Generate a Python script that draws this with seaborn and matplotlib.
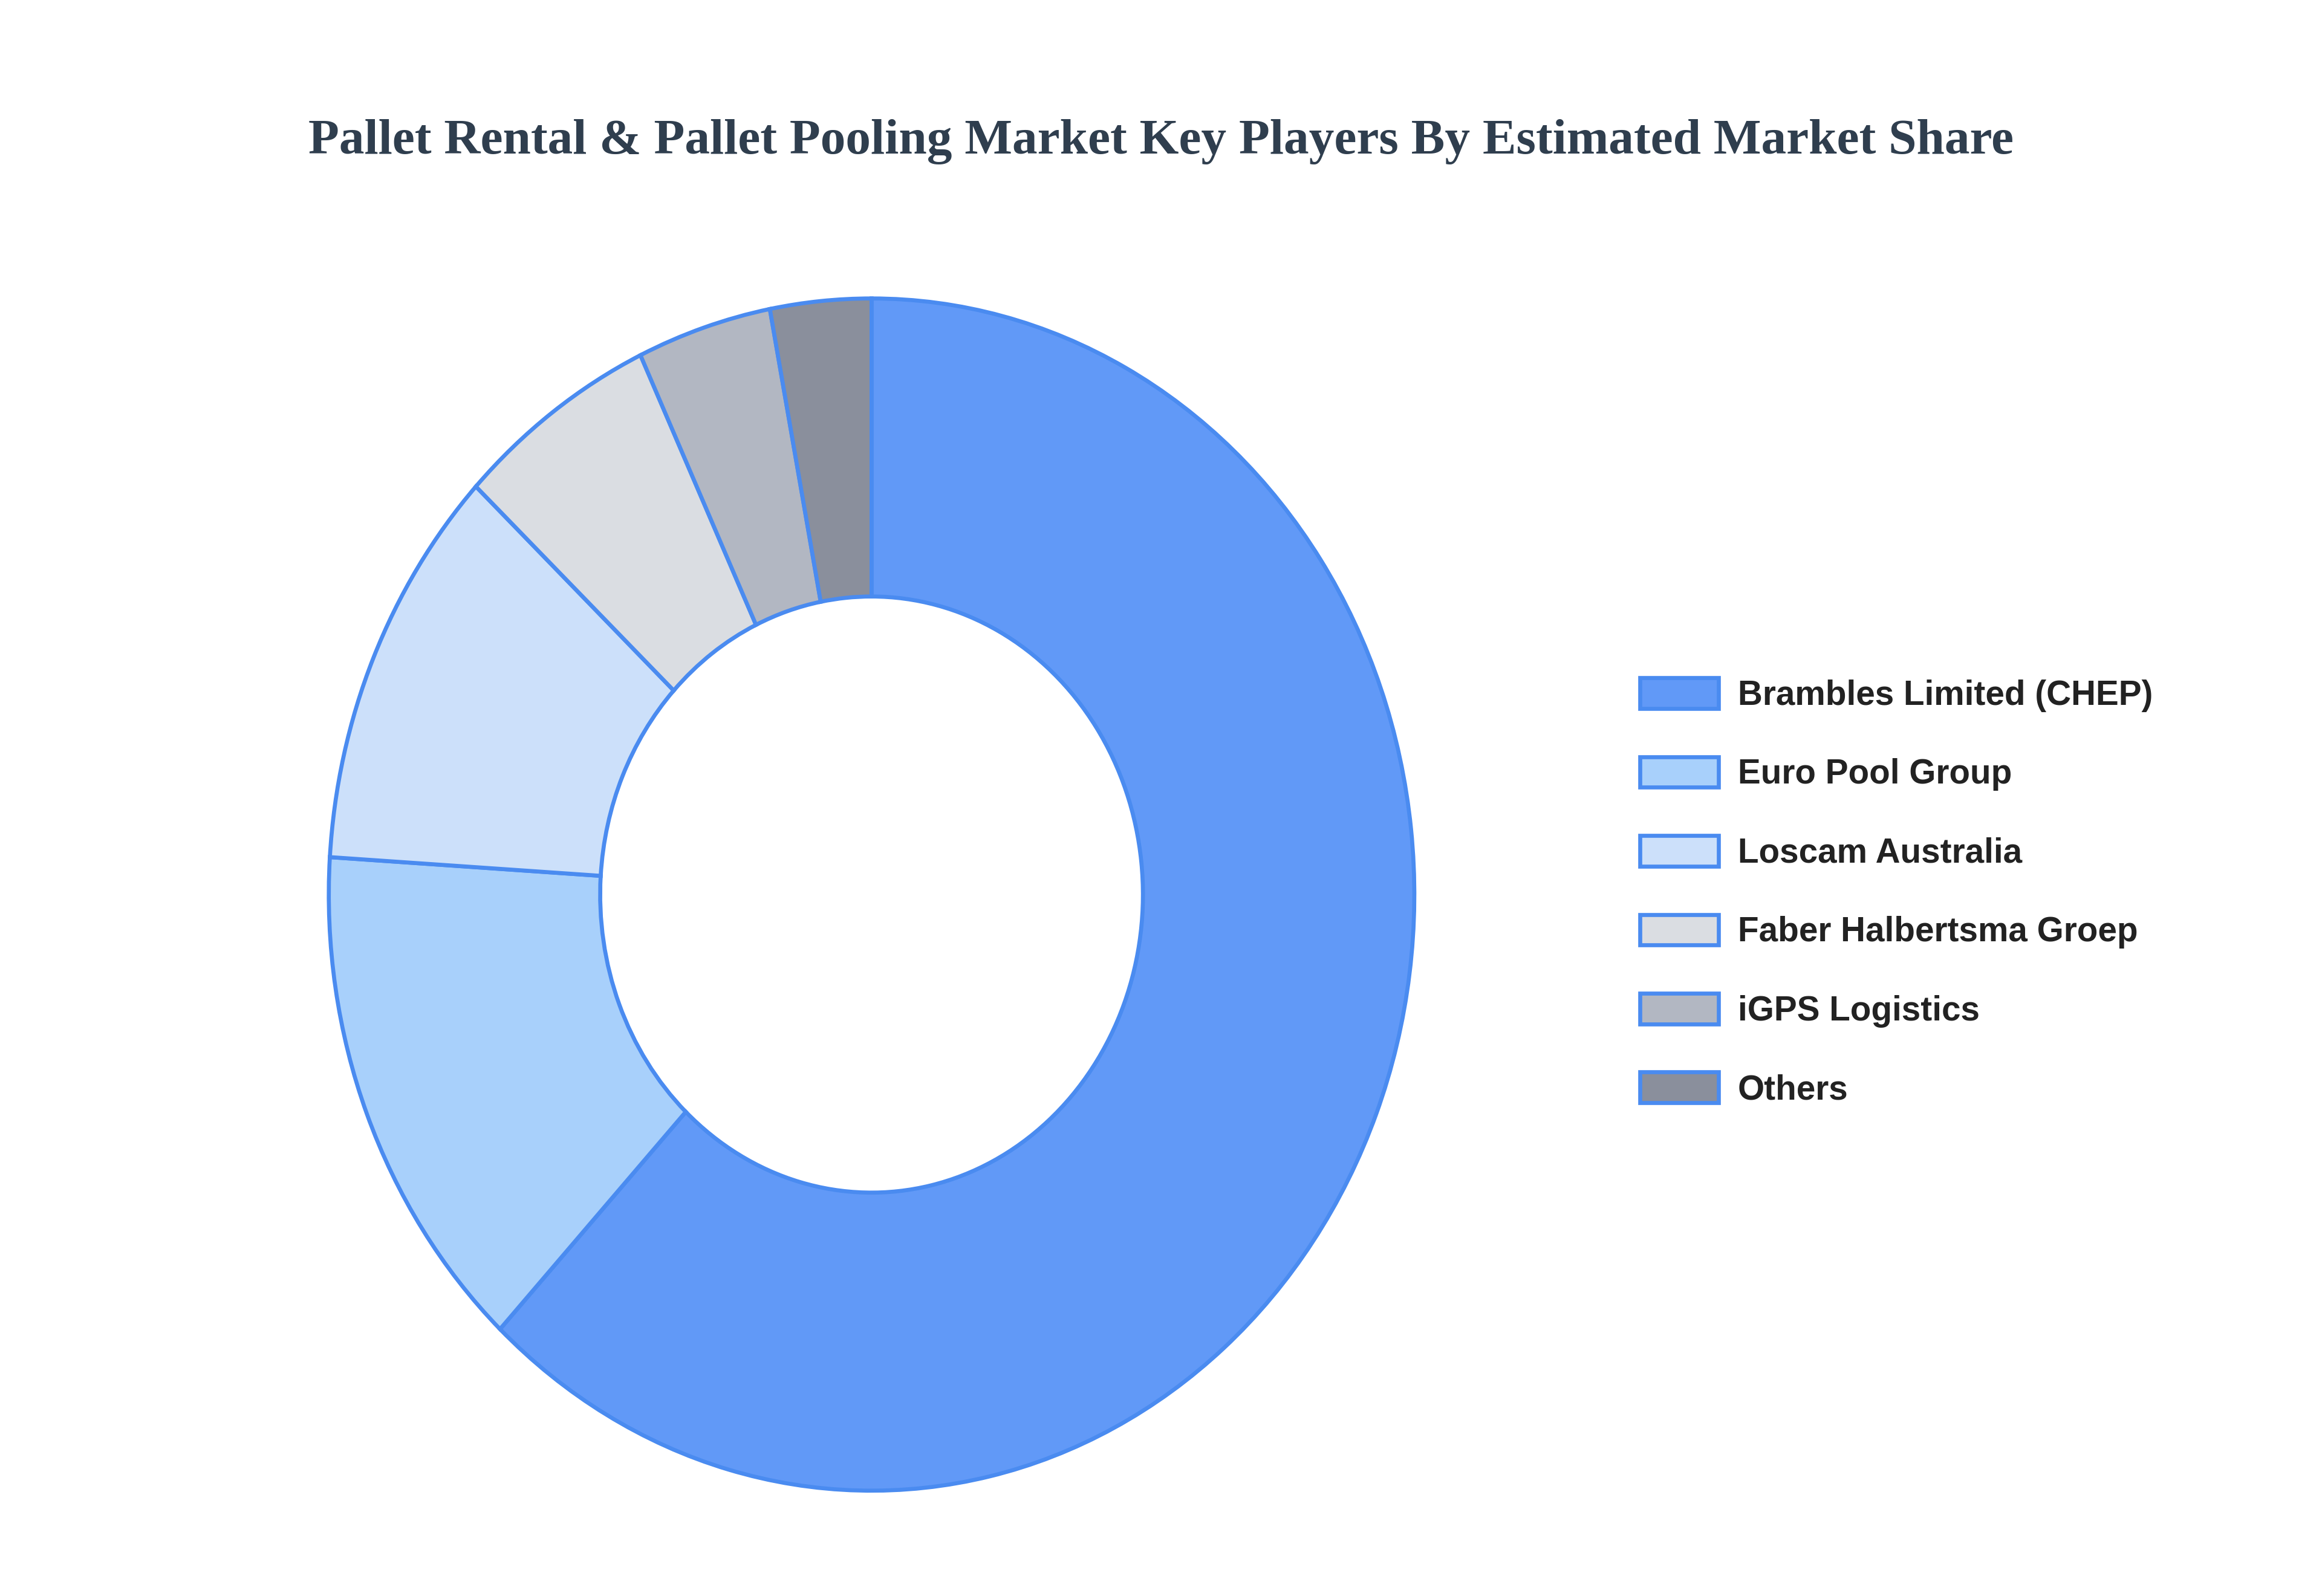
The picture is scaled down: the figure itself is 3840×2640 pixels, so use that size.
import matplotlib
matplotlib.use("Agg")
import matplotlib.pyplot as plt
import seaborn as sns
from matplotlib.patches import Patch

sns.set_theme(style="white")

players = ["Brambles Limited (CHEP)", "Euro Pool Group", "Loscam Australia",
           "Faber Halbertsma Groep", "iGPS Logistics", "Others"]
shares = [62, 14, 11, 6, 4, 3]
colors = ["#6199F7", "#A8D0FB", "#CCE0FA", "#DADDE2", "#B2B7C2", "#8A8F9C"]
edge = "#4A8BF0"

fig = plt.figure(figsize=(16, 11), dpi=240)
ax = fig.add_axes([0.1416, 0.066, 0.4675, 0.747])
ax.pie(shares, colors=colors, startangle=90, counterclock=False, radius=1,
       wedgeprops=dict(width=0.5, edgecolor=edge, linewidth=2))
ax.set_xlim(-1, 1); ax.set_ylim(-1, 1); ax.set_aspect("auto")
ax.axis("off")

fig.text(0.5, 0.911, "Pallet Rental & Pallet Pooling Market Key Players By Estimated Market Share",
         ha="center", va="center", fontsize=25, fontweight="bold",
         family="Liberation Serif", color="#2F3E4E")

handles = [Patch(facecolor=c, edgecolor=edge, linewidth=2) for c in colors]
leg = fig.legend(handles, players, loc="center left", bbox_to_anchor=(0.693, 0.441),
                 frameon=False, prop=dict(family="Liberation Sans", weight="bold", size=17),
                 handlelength=2.3, handleheight=1.0, labelspacing=1.3, handletextpad=0.55)
for t in leg.get_texts():
    t.set_color("#222222")

fig.savefig("out.png", dpi=240, facecolor="white")
